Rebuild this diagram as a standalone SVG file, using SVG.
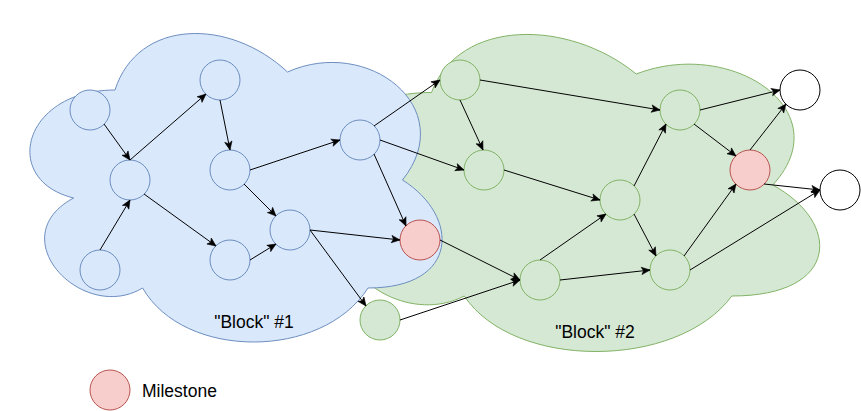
<svg xmlns="http://www.w3.org/2000/svg" width="861" height="411" viewBox="0 0 861 411">
<style>
.blue{fill:#dae8fc;stroke:#6c8ebf;stroke-width:1}
.green{fill:#d5e8d4;stroke:#82b366;stroke-width:1}
.red{fill:#f8cecc;stroke:#b85450;stroke-width:1}
.white{fill:#ffffff;stroke:#000000;stroke-width:1}
.edge{fill:none;stroke:#000000;stroke-width:1;marker-end:url(#arr)}
.lbl{font-family:"Liberation Sans",Arial,Helvetica,sans-serif;font-size:17.5px;fill:#000000}
</style>
<defs>
<marker id="arr" markerUnits="userSpaceOnUse" markerWidth="10" markerHeight="10" viewBox="0 0 10 10" refX="9.5" refY="5" orient="auto">
<path d="M1,1.3 L9.5,5 L1,8.7 L3,5 Z" fill="#000000" stroke="#000000" stroke-width="0.6"/>
</marker>
</defs>
<g id="cloud2">
<path class="green" d="M 431.5 92.5 C 322.3 92.5 295 185 382.4 203.5 C 295 244.2 393.3 333 464.3 296 C 513.4 370 677.2 370 731.8 296 C 841 296 841 222 772.75 185 C 841 111 731.8 37 636.25 74 C 568 18.5 458.8 18.5 431.5 92.5 Z"/>
</g>
<g id="cloud1">
<path class="blue" d="M 115 90 C 23 90 0 180 73.6 198 C 0 237.6 82.8 324 142.6 288 C 184 360 322 360 368 288 C 460 288 460 216 402.5 180 C 460 108 368 36 287.5 72 C 230 18 138 18 115 90 Z"/>
</g>
<g id="n1"><circle class="blue" cx="90" cy="110" r="20"/></g>
<g id="n2"><circle class="blue" cx="130" cy="180" r="20"/></g>
<g id="n3"><circle class="blue" cx="220" cy="80" r="20"/></g>
<g id="n4"><circle class="blue" cx="230" cy="170" r="20"/></g>
<g id="n5"><circle class="blue" cx="100" cy="270" r="20"/></g>
<g id="n6"><circle class="blue" cx="230" cy="260" r="20"/></g>
<g id="n7"><circle class="blue" cx="290" cy="230" r="20"/></g>
<g id="n8"><circle class="blue" cx="360" cy="140" r="20"/></g>
<g id="m1"><circle class="red" cx="420" cy="240" r="20"/></g>
<g id="s1"><circle class="green" cx="380" cy="320" r="20"/></g>
<g id="g1"><circle class="green" cx="460" cy="80" r="20"/></g>
<g id="g2"><circle class="green" cx="484" cy="170" r="20"/></g>
<g id="g3"><circle class="green" cx="620" cy="200" r="20"/></g>
<g id="g4"><circle class="green" cx="680" cy="110" r="20"/></g>
<g id="g5"><circle class="green" cx="540" cy="280" r="20"/></g>
<g id="g6"><circle class="green" cx="670" cy="270" r="20"/></g>
<g id="m2"><circle class="red" cx="750" cy="170" r="20"/></g>
<g id="w1"><circle class="white" cx="800" cy="90" r="20"/></g>
<g id="w2"><circle class="white" cx="840" cy="190" r="20"/></g>
<g id="edges">
<line class="edge" x1="104" y1="124" x2="130" y2="160"/>
<line class="edge" x1="100" y1="250" x2="130" y2="200"/>
<line class="edge" x1="130" y1="160" x2="206" y2="94"/>
<line class="edge" x1="144" y1="194" x2="216" y2="246"/>
<line class="edge" x1="220" y1="100" x2="230" y2="150"/>
<line class="edge" x1="250" y1="170" x2="340" y2="140"/>
<line class="edge" x1="244" y1="184" x2="276" y2="216"/>
<line class="edge" x1="250" y1="260" x2="276" y2="244"/>
<line class="edge" x1="310" y1="230" x2="400" y2="240"/>
<line class="edge" x1="310" y1="230" x2="366" y2="306"/>
<line class="edge" x1="374" y1="154" x2="406" y2="226"/>
<line class="edge" x1="374" y1="126" x2="440" y2="80"/>
<line class="edge" x1="380" y1="140" x2="464" y2="170"/>
<line class="edge" x1="400" y1="320" x2="520" y2="280"/>
<line class="edge" x1="440" y1="240" x2="520" y2="280"/>
<line class="edge" x1="460" y1="100" x2="483" y2="150"/>
<line class="edge" x1="480" y1="80" x2="660" y2="110"/>
<line class="edge" x1="504" y1="170" x2="600" y2="200"/>
<line class="edge" x1="540" y1="260" x2="606" y2="214"/>
<line class="edge" x1="560" y1="280" x2="650" y2="270"/>
<line class="edge" x1="634" y1="186" x2="666" y2="124"/>
<line class="edge" x1="634" y1="214" x2="656" y2="256"/>
<line class="edge" x1="694" y1="124" x2="736" y2="156"/>
<line class="edge" x1="700" y1="110" x2="780" y2="90"/>
<line class="edge" x1="684" y1="256" x2="736" y2="184"/>
<line class="edge" x1="690" y1="270" x2="820" y2="190"/>
<line class="edge" x1="750" y1="150" x2="786" y2="104"/>
<line class="edge" x1="764" y1="184" x2="820" y2="190"/>
</g>
<g id="labels">
<text class="lbl" x="254" y="328" text-anchor="middle">"Block" #1</text>
<text class="lbl" x="595" y="338" text-anchor="middle">"Block" #2</text>
</g>
<g id="legend">
<circle class="red" cx="110" cy="390" r="20"/>
<text class="lbl" x="142" y="397">Milestone</text>
</g>
</svg>
